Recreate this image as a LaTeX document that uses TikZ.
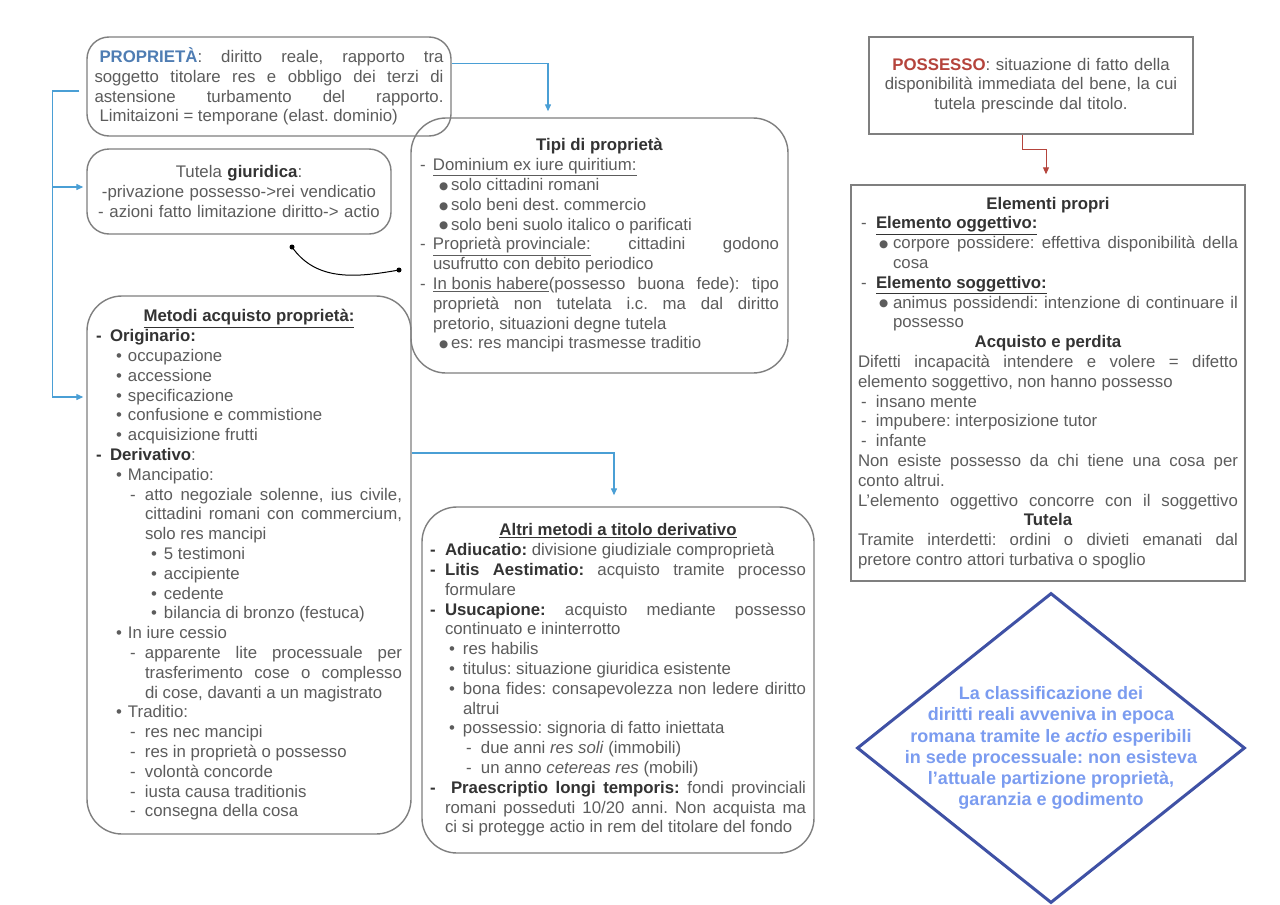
\documentclass[tikz,border=0pt]{standalone}
\usepackage{fontspec}
\setmainfont{Liberation Sans}
\newfontfamily\symfont{DejaVu Sans}
\usetikzlibrary{arrows.meta,shapes.geometric}

\definecolor{txtgray}{HTML}{5C5C5C}
\definecolor{headgray}{HTML}{333333}
\definecolor{boxgray}{HTML}{7F7F7F}
\definecolor{linkblue}{HTML}{4A9FD5}
\definecolor{propblue}{HTML}{4F7DB3}
\definecolor{possred}{HTML}{B5443C}
\definecolor{diamblue}{HTML}{3F51A5}
\definecolor{diamtext}{HTML}{7B9CF0}

\setlength{\parindent}{0pt}
\frenchspacing
\newcommand{\txtfont}{\fontsize{16.8}{19.8}\selectfont}
\newcommand{\hd}[1]{{\centering\bfseries\color{headgray}#1\par}}
\newcommand{\bt}[1]{\textbf{\color{headgray}#1}}
\newcommand{\ul}[1]{\underline{#1}}
\newcommand{\bul}{\raisebox{1.2pt}{\symfont\fontsize{10.5}{10.5}\selectfont ●}}
\newcommand{\sbul}{•}
% item: label at #1, text at #2 (pt from text left)
\newcommand{\itm}[4]{{\leftskip=#2pt\relax\noindent\llap{\makebox[\dimexpr#2pt-#1pt\relax][l]{#3}}#4\par}}

\tikzset{
    rbox/.style={draw=boxgray, line width=1.4pt, rounded corners=#1, inner sep=0pt,
        align=justify, font=\txtfont, text=txtgray},
    rbox/.default=35pt,
    sbox/.style={draw=boxgray, line width=1.4pt, inner sep=0pt,
        align=justify, font=\txtfont, text=txtgray},
    link/.style={->, draw=linkblue, line width=1.3pt},
    rlink/.style={->, draw=possred, line width=1pt},
}

\begin{document}
\begin{tikzpicture}[x=1pt, y=-1pt, >={Triangle[length=7pt, width=6pt]}]
    \fill[white] (0,0) rectangle (1280,905);
    \useasboundingbox (0,0) rectangle (1280,905);

    % left column
    \node[rbox=22pt, minimum width=364pt, minimum height=99pt, text width=349pt] (prop) at (269,86.5)
        {\hspace*{5pt}{\bfseries\color{propblue}PROPRIETÀ}: diritto reale, rapporto tra\linebreak
        soggetto titolare res e obbligo dei terzi di\linebreak
        astensione turbamento del rapporto.\linebreak
        \hspace*{5pt}Limitaizoni = temporane (elast. dominio)\par};
    \node[rbox=22pt, align=center, minimum width=304pt, minimum height=85pt, text width=296pt] (tutela) at (239,191.5)
        {Tutela \bt{giuridica}:\\ -privazione possesso->rei vendicatio\\ - azioni fatto limitazione diritto-> actio};
    \node[rbox, minimum width=324pt, minimum height=538pt, text width=306pt] (metodi) at (249,565) {%
        \hd{\ul{Metodi acquisto proprietà:}}
        \itm{0}{14}{\bt{-}}{\bt{Originario:}}
        \itm{20}{32}{\sbul}{occupazione}
        \itm{20}{32}{\sbul}{accessione}
        \itm{20}{32}{\sbul}{specificazione}
        \itm{20}{32}{\sbul}{confusione e commistione}
        \itm{20}{32}{\sbul}{acquisizione frutti}
        \itm{0}{14}{\bt{-}}{\bt{Derivativo}:}
        \itm{20}{32}{\sbul}{Mancipatio:}
        \itm{34}{49}{-}{atto negoziale solenne, ius civile,\linebreak cittadini romani con commercium,\linebreak solo res mancipi}
        \itm{55}{68}{\sbul}{5 testimoni}
        \itm{55}{68}{\sbul}{accipiente}
        \itm{55}{68}{\sbul}{cedente}
        \itm{55}{68}{\sbul}{bilancia di bronzo (festuca)}
        \itm{20}{32}{\sbul}{In iure cessio}
        \itm{34}{49}{-}{apparente lite processuale per\linebreak trasferimento cose o complesso\linebreak di cose, davanti a un magistrato}
        \itm{20}{32}{\sbul}{Traditio:}
        \itm{34}{49}{-}{res nec mancipi}
        \itm{34}{49}{-}{res in proprietà o possesso}
        \itm{34}{49}{-}{volontà concorde}
        \itm{34}{49}{-}{iusta causa traditionis}
        \itm{34}{49}{-}{consegna della cosa}};

    % middle column
    \node[rbox, minimum width=377pt, minimum height=255pt, text width=359pt] (tipi) at (599.5,245.5) {%
        \hd{Tipi di proprietà}
        \itm{0}{13}{-}{\ul{Dominium ex iure quiritium:}}
        \itm{19}{31}{\bul}{solo cittadini romani}
        \itm{19}{31}{\bul}{solo beni dest. commercio}
        \itm{19}{31}{\bul}{solo beni suolo italico o parificati}
        \itm{0}{13}{-}{\ul{Proprietà provinciale:} cittadini godono\linebreak usufrutto con debito periodico}
        \itm{0}{13}{-}{\ul{In bonis habere}(possesso buona fede): tipo\linebreak proprietà non tutelata i.c. ma dal diritto\linebreak pretorio, situazioni degne tutela}
        \itm{19}{31}{\bul}{es: res mancipi trasmesse traditio}};
    \node[rbox, minimum width=392pt, minimum height=346pt, text width=376pt] (altri) at (618,680) {%
        \hd{\ul{Altri metodi a titolo derivativo}}
        \itm{0}{15}{\bt{-}}{\bt{Adiucatio:} divisione giudiziale comproprietà}
        \itm{0}{15}{\bt{-}}{\bt{Litis Aestimatio:} acquisto tramite processo\linebreak formulare}
        \itm{0}{15}{\bt{-}}{\bt{Usucapione:} acquisto mediante possesso\linebreak continuato e ininterrotto}
        \itm{19}{33}{\sbul}{res habilis}
        \itm{19}{33}{\sbul}{titulus: situazione giuridica esistente}
        \itm{19}{33}{\sbul}{bona fides: consapevolezza non ledere diritto\linebreak altrui}
        \itm{19}{33}{\sbul}{possessio: signoria di fatto iniettata}
        \itm{36}{51}{-}{due anni \textit{res soli} (immobili)}
        \itm{36}{51}{-}{un anno \textit{cetereas res} (mobili)}
        \itm{0}{15}{\bt{-}}{\hspace*{6pt}\bt{Praescriptio longi temporis:} fondi provinciali\linebreak romani posseduti 10/20 anni. Non acquista ma\linebreak ci si protegge actio in rem del titolare del fondo}};

    % right column
    \node[sbox, align=center, minimum width=324pt, minimum height=97pt, text width=316pt] (poss) at (1031,85.5)
        {{\bfseries\color{possred}POSSESSO}: situazione di fatto della\\ disponibilità immediata del bene, la cui\\ tutela prescinde dal titolo.};
    \node[sbox, minimum width=394pt, minimum height=396pt, text width=380pt] (elem) at (1048,383) {%
        \hd{Elementi propri}
        \itm{3}{18}{-}{\bt{\ul{Elemento oggettivo:}}}
        \itm{21}{35}{\bul}{corpore possidere: effettiva disponibilità della\linebreak cosa}
        \itm{3}{18}{-}{\bt{\ul{Elemento soggettivo:}}}
        \itm{21}{35}{\bul}{animus possidendi: intenzione di continuare il\linebreak possesso}
        \hd{Acquisto e perdita}
        Difetti incapacità intendere e volere = difetto\linebreak elemento soggettivo, non hanno possesso\par
        \itm{3}{18}{-}{insano mente}
        \itm{3}{18}{-}{impubere: interposizione tutor}
        \itm{3}{18}{-}{infante}
        Non esiste possesso da chi tiene una cosa per\linebreak conto altrui.\par
        {\parfillskip=0pt L’elemento oggettivo concorre con il soggettivo\par}
        \hd{Tutela}
        Tramite interdetti: ordini o divieti emanati dal\linebreak pretore contro attori turbativa o spoglio\par};
    \node[diamond, draw=diamblue, line width=3pt, minimum width=388pt, minimum height=310pt, inner sep=0pt] (diam) at (1051,748) {};
    \node[font=\bfseries\fontsize{18}{21.2}\selectfont, text=diamtext, align=center] (diamtxt) at (diam.center)
        {La classificazione dei\\ diritti reali avveniva in epoca\\ romana tramite le \textit{actio} esperibili\\
        in sede processuale: non esisteva\\ l’attuale partizione proprietà,\\ garanzia e godimento};

    % connectors
    \draw[link, shorten >=6pt] ([yshift=-27pt]prop.north east) -| ([xshift=-51.5pt]tipi.north);
    \coordinate (tutin) at ([yshift=4.5pt]tutela.west);
    \coordinate (metin) at ([yshift=168pt]metodi.west);
    \draw[link, shorten <=7pt, shorten >=3pt] ([yshift=-4.5pt]prop.west) -- ++(-34,0) coordinate (spine) |- (metin);
    \draw[link, shorten >=3pt] (spine |- tutin) -- (tutin);
    \draw[link, shorten >=11pt] ([yshift=112pt]metodi.east) -| ([xshift=-4pt]altri.north);
    \draw[rlink, shorten >=10pt] ([xshift=-9pt]poss.south) -- ++(0,15) -| ([xshift=-2pt]elem.north);
    \coordinate (cs) at (292,247);
    \coordinate (ce) at (399,270);
    \draw[line width=1pt] (cs) to[out=-55, in=190] (ce);
    \fill (cs) circle [radius=2.5pt];
    \fill (ce) circle [radius=2.5pt];
\end{tikzpicture}
\end{document}
